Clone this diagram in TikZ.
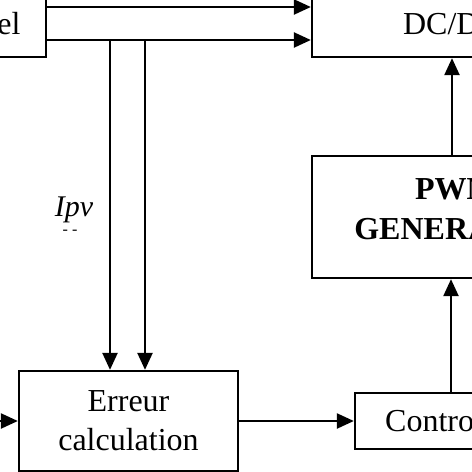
\documentclass[tikz,border=0pt]{standalone}
\usepackage{fontspec}
\setmainfont{Liberation Serif}
\usetikzlibrary{arrows.meta}

\begin{document}
\begin{tikzpicture}[x=1pt, y=-1pt,
        block/.style={draw, line width=2.3pt, inner sep=0pt, align=center,
            font=\fontsize{32}{39}\selectfont},
        link/.style={line width=2.3pt, -{Triangle[length=17pt, width=15pt]}}]
        \useasboundingbox (0, 0) rectangle (472, 472);
        \clip (0, 0) rectangle (472, 472);

        % blocks
        \node [block, minimum width=122pt, minimum height=66pt] (panel) at (-15, 24) {Panel};
        \node [block, minimum width=280pt, minimum height=66pt] (dcdc) at (452, 24) {DC/DC};
        \node [block, minimum width=280pt, minimum height=122pt] (pwm) at (452, 217) {};
        \node [font=\fontsize{32}{40}\selectfont\bfseries, align=center] (pwmtext) at (456, 209) {PWM\\GENERATOR};
        \node [block, minimum width=219pt, minimum height=100pt] (erreur) at (128.5, 421) {Erreur\\calculation};
        \node [block, minimum width=192pt, minimum height=56pt] (control) at (451, 421) {Controller};

        % measures from the panel
        \draw [link] ([yshift=17pt]panel.east) -- ([yshift=17pt]dcdc.west);
        \draw [link] ([yshift=-16pt]panel.east) -- ([yshift=-16pt]dcdc.west);

        \coordinate (tapV) at (110, 40);
        \coordinate (tapI) at (145, 40);
        \draw [link] (tapV) -- (tapV |- erreur.north);
        \draw [link] (tapI) -- (tapI |- erreur.north);

        \node [font=\fontsize{30}{36}\selectfont\itshape, inner sep=1pt] (ipv) at (74, 210) {Ipv};
        \node [font=\fontsize{16}{18}\selectfont, inner sep=0pt] (ipvdash) at (70, 232) {- -};

        % control loop
        \coordinate (ref) at (-40, 421);
        \draw [link] (ref) -- (erreur.west);
        \draw [link] (erreur.east) -- (control.west);
        \draw [link] (control.north) -- (control.north |- pwm.south);
        \draw [link] (pwm.north) -- (pwm.north |- dcdc.south);
    \end{tikzpicture}
\end{document}
